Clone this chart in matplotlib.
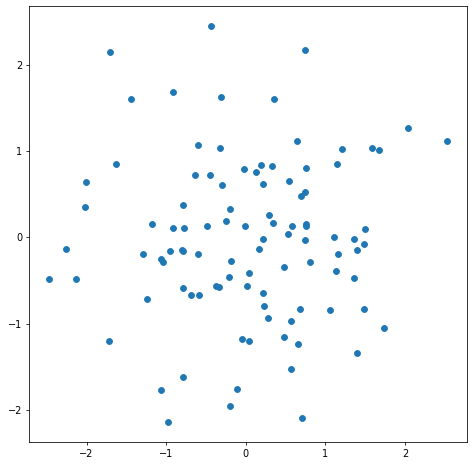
import matplotlib
matplotlib.use("Agg")
import matplotlib.pyplot as plt

# point coordinates
x = [-0.441, -1.703, -1.445, -0.909, -0.316, -0.599, -0.320, 0.750, 0.349, 0.642,
     1.206, 1.582, 1.670, 2.034, 2.530, -1.624, -0.633, -0.449, -0.019, -2.013,
     -0.303, -2.016, -0.792, -0.203, -0.245, -0.006, -1.181, -0.918, -0.780, -0.492,
     -2.260, -1.289, -1.068, -1.038, -0.955, -0.805, -0.787, -0.599, -0.191, -2.473,
     -2.138, -0.216, -0.374, -0.336, 0.010, -0.792, -0.692, -0.592, -1.244, 0.040,
     0.194, 0.329, 0.132, 0.755, 1.151, 0.216, 0.542, 0.742, 0.696, 0.291,
     0.345, 0.583, 0.755, 0.762, 1.495, 0.223, 0.533, 0.750, 1.106, 1.357,
     1.486, 1.394, 0.161, 1.160, 0.813, 0.487, 1.131, 1.357, 0.223, -1.715,
     -0.053, 0.040, -0.787, -1.068, -0.107, -0.194, -0.972, 0.228, 0.683, 1.056,
     1.486, 0.278, 0.571, 1.740, 0.479, 0.655, 1.394, 0.574, 0.705]
y = [2.457, 2.155, 1.613, 1.690, 1.631, 1.073, 1.043, 2.174, 1.605, 1.116,
     1.023, 1.035, 1.012, 1.267, 1.124, 0.849, 0.729, 0.729, 0.794, 0.640,
     0.608, 0.352, 0.376, 0.326, 0.190, 0.136, 0.151, 0.105, 0.105, 0.128,
     -0.140, -0.198, -0.252, -0.291, -0.159, -0.151, -0.159, -0.190, -0.271, -0.480,
     -0.485, -0.465, -0.562, -0.570, -0.566, -0.593, -0.671, -0.671, -0.715, -0.413,
     0.845, 0.834, 0.756, 0.806, 0.849, 0.620, 0.651, 0.523, 0.477, 0.264,
     0.163, 0.131, 0.159, 0.136, 0.101, -0.020, 0.035, -0.031, 0.000, -0.023,
     -0.078, -0.148, -0.131, -0.198, -0.283, -0.341, -0.387, -0.469, -0.651, -1.198,
     -1.178, -1.206, -1.620, -1.776, -1.764, -1.962, -2.143, -0.791, -0.826, -0.841,
     -0.829, -0.938, -0.969, -1.055, -1.151, -1.236, -1.345, -1.531, -2.097]

DPI = 70
fig = plt.figure(figsize=(474 / DPI, 466 / DPI), dpi=DPI)
ax = fig.add_axes([0.0612, 0.052, 0.924, 0.935])
ax.scatter(x, y, color="#1f77b4")
ax.set_xticks([-2, -1, 0, 1, 2])
ax.set_yticks([-2, -1, 0, 1, 2])
fig.savefig("out.png", dpi=DPI)
